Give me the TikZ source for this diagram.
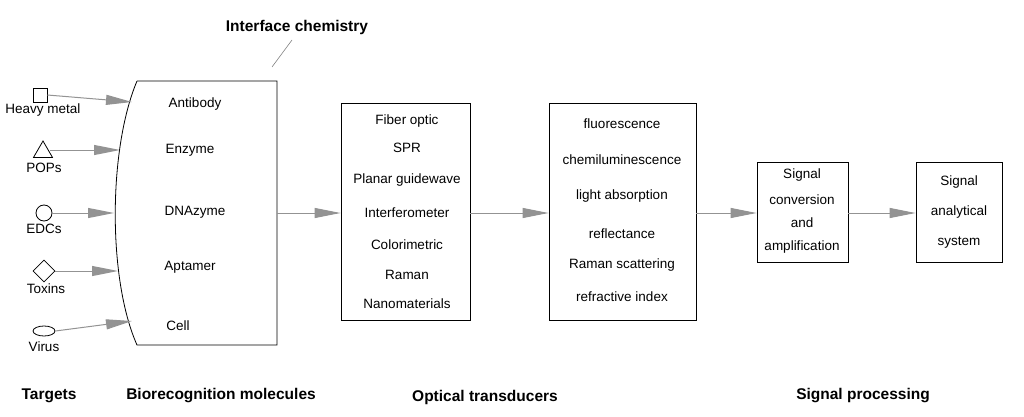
\documentclass[tikz,border=0pt]{standalone}
\usepackage{fontspec}
\setmainfont{Liberation Sans}
\usetikzlibrary{arrows.meta,shapes.geometric}
\begin{document}
\begin{tikzpicture}[x=1pt,y=-1pt,
  txt/.style={font=\fontsize{13.5}{15}\selectfont,inner sep=1pt},
  lab/.style={font=\bfseries\fontsize{15.5}{17}\selectfont,inner sep=1pt},
  arr/.style={draw=gray!85,line width=1pt,-{Triangle[length=26pt,width=10pt,fill=gray!85]}},
  box/.style={draw,line width=0.8pt,inner sep=0pt},
  sym/.style={draw,line width=0.8pt,inner sep=0pt}]
\useasboundingbox (0,0) rectangle (1024,417);
% targets
\node[sym,minimum size=14pt] (s1) at (40,95) {};
\node[txt] (l1) at (43,110) {Heavy metal};
\node[sym,regular polygon,regular polygon sides=3,minimum size=22pt] (s2) at (43,152) {};
\node[txt] (l2) at (44,168) {POPs};
\node[sym,circle,minimum size=16pt] (s3) at (44,213) {};
\node[txt] (l3) at (44,229) {EDCs};
\node[sym,diamond,minimum size=22pt] (s4) at (44,271) {};
\node[txt] (l4) at (46,289) {Toxins};
\node[sym,ellipse,minimum width=22pt,minimum height=10pt] (s5) at (44,331) {};
\node[txt] (l5) at (44,347) {Virus};
% box1
\draw[line width=0.8pt] (137,81) -- (277,81) -- (277,345) -- (137,345) .. controls (108,280) and (108,150) .. (137,81);
\coordinate (b1r) at (277,213);
\coordinate (t1) at (132,102);
\coordinate (t2) at (120,150);
\coordinate (t3) at (114,213);
\coordinate (t4) at (118,271);
\coordinate (t5) at (132,321);
\draw[arr] (s1.east) -- (t1);
\draw[arr] (s2.east|-0,150) -- (t2);
\draw[arr] (s3.east) -- (t3);
\draw[arr] (s4.east) -- (t4);
\draw[arr] (s5.east) -- (t5);
\node[txt] at (195,104) {Antibody};
\node[txt] at (190,150) {Enzyme};
\node[txt] at (195,212) {DNAzyme};
\node[txt] at (190,267) {Aptamer};
\node[txt] at (178,326) {Cell};
% interface
\node[lab] (ic) at (297,27) {Interface chemistry};
\coordinate (icl) at (272,67);
\draw[gray,line width=0.6pt] (icl) -- (292,40);
% box2
\node[box,minimum width=129pt,minimum height=217pt] (b2) at (405.5,211.5) {};
\foreach \t/\y in {Fiber optic/121,SPR/148,Planar guidewave/180,Interferometer/213,Colorimetric/245,Raman/275,Nanomaterials/304}
  \node[txt] at (407,\y) {\t};
% box3
\node[box,minimum width=147pt,minimum height=217pt] (b3) at (622.5,211.5) {};
\foreach \t/\y in {fluorescence/124,chemiluminescence/160,light absorption/196,reflectance/234,Raman scattering/265,refractive index/297}
  \node[txt] at (622,\y) {\t};
% box4
\node[box,minimum width=91pt,minimum height=100pt] (b4) at (802.5,212) {};
\foreach \t/\y in {Signal/175,conversion/200,and/223,amplification/247}
  \node[txt] at (802,\y) {\t};
% box5
\node[box,minimum width=86pt,minimum height=100pt] (b5) at (959,212) {};
\foreach \t/\y in {Signal/182,analytical/212,system/243}
  \node[txt] at (959,\y) {\t};
\draw[arr] (b1r) -- (b2.west|-b1r);
\draw[arr] (b2.east|-b1r) -- (b3.west|-b1r);
\draw[arr] (b3.east|-b1r) -- (b4.west|-b1r);
\draw[arr] (b4.east|-b1r) -- (b5.west|-b1r);
% bottom labels
\node[lab] at (49,396) {Targets};
\node[lab] at (221,396) {Biorecognition molecules};
\node[lab] at (485,397) {Optical transducers};
\node[lab] at (863,396) {Signal processing};
\end{tikzpicture}
\end{document}
